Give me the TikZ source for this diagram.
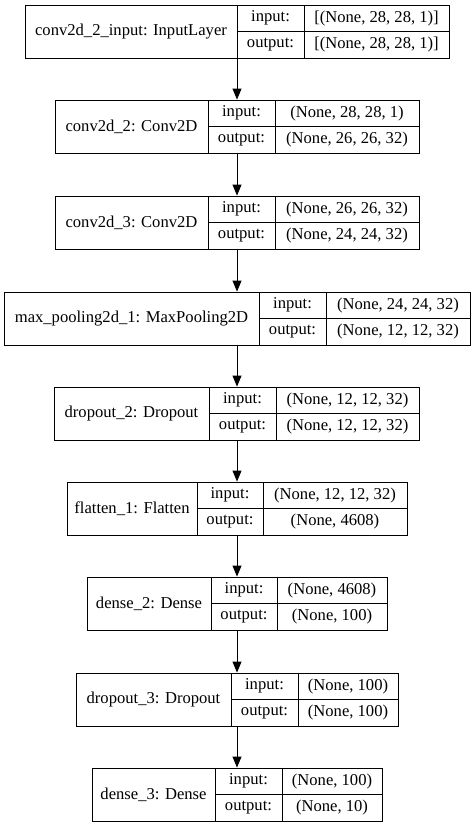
\documentclass[tikz,border=0pt]{standalone}
\usepackage{fontspec}
\setmainfont{Liberation Serif}
\usetikzlibrary{arrows.meta}
\tikzset{
  cell/.style={draw, line width=0.9pt, inner sep=0pt, font=\fontsize{16.6}{20}\selectfont},
  flow/.style={line width=0.9pt, -{Triangle[length=11pt,width=9pt]}}
}
% one keras layer: name, left, split1, split2, right, top, label, input, output
\newcommand{\kerasbox}[9]{%
  \node[cell, minimum width={(#3-#2)*1pt}, minimum height=53pt] (#1-name) at ({(#2+#3)/2},{#6+26.5}) {#7};
  \node[cell, minimum width={(#4-#3)*1pt}, minimum height=26.5pt] (#1-in) at ({(#3+#4)/2},{#6+13.25}) {input:};
  \node[cell, minimum width={(#4-#3)*1pt}, minimum height=26.5pt] (#1-out) at ({(#3+#4)/2},{#6+39.75}) {output:};
  \node[cell, minimum width={(#5-#4)*1pt}, minimum height=26.5pt] (#1-inval) at ({(#4+#5)/2},{#6+13.25}) {#8};
  \node[cell, minimum width={(#5-#4)*1pt}, minimum height=26.5pt] (#1-outval) at ({(#4+#5)/2},{#6+39.75}) {#9};
}
\begin{document}
\begin{tikzpicture}[x=1pt, y=-1pt]
  \useasboundingbox (0,0) rectangle (474,827);
  \coordinate (axis) at (237,0);
  \kerasbox{l1}{25}{237}{304}{449}{5}{conv2d\_2\_input: InputLayer}{[(None, 28, 28, 1)]}{[(None, 28, 28, 1)]}
  \kerasbox{l2}{55}{208}{275}{419}{100}{conv2d\_2: Conv2D}{(None, 28, 28, 1)}{(None, 26, 26, 32)}
  \kerasbox{l3}{55}{208}{275}{419}{196}{conv2d\_3: Conv2D}{(None, 26, 26, 32)}{(None, 24, 24, 32)}
  \kerasbox{l4}{4}{259}{326}{470}{292}{max\_pooling2d\_1: MaxPooling2D}{(None, 24, 24, 32)}{(None, 12, 12, 32)}
  \kerasbox{l5}{54}{209}{276}{419}{387}{dropout\_2: Dropout}{(None, 12, 12, 32)}{(None, 12, 12, 32)}
  \kerasbox{l6}{67}{197}{263}{407}{482}{flatten\_1: Flatten}{(None, 12, 12, 32)}{(None, 4608)}
  \kerasbox{l7}{87}{211}{277}{387}{577}{dense\_2: Dense}{(None, 4608)}{(None, 100)}
  \kerasbox{l8}{76}{231}{298}{398}{673}{dropout\_3: Dropout}{(None, 100)}{(None, 100)}
  \kerasbox{l9}{92}{215}{282}{382}{768}{dense\_3: Dense}{(None, 100)}{(None, 10)}
  \draw[flow] (l1-name.south -| axis) -- (l2-name.north -| axis);
  \draw[flow] (l2-name.south -| axis) -- (l3-name.north -| axis);
  \draw[flow] (l3-name.south -| axis) -- (l4-name.north -| axis);
  \draw[flow] (l4-name.south -| axis) -- (l5-name.north -| axis);
  \draw[flow] (l5-name.south -| axis) -- (l6-name.north -| axis);
  \draw[flow] (l6-name.south -| axis) -- (l7-name.north -| axis);
  \draw[flow] (l7-name.south -| axis) -- (l8-name.north -| axis);
  \draw[flow] (l8-name.south -| axis) -- (l9-name.north -| axis);
\end{tikzpicture}
\end{document}
